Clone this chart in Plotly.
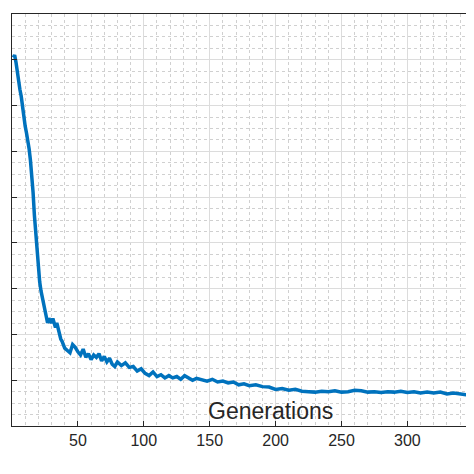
import plotly.graph_objects as go

# values (generation, best fitness)
generations = [1, 2, 3, 4, 5, 6, 7, 8, 9, 10, 11, 12, 13, 14, 15, 16, 17, 18, 19, 20,
               21, 22, 23, 24, 25, 26, 27, 28, 29, 30, 31, 32, 33, 34, 35, 36, 37, 38, 39, 40,
               42, 44, 46, 48, 50, 52, 54, 56, 58, 60, 62, 64, 66, 68, 70, 72, 74, 76, 78, 80,
               83, 86, 89, 92, 95, 98, 101, 104, 107, 110, 113, 116, 119, 122, 125, 128, 131, 134,
               137, 140, 144, 148, 152, 156, 160, 164, 168, 172, 176, 180, 185, 190, 195, 200,
               205, 210, 215, 220, 225, 230, 235, 240, 245, 250, 255, 260, 265, 270, 275, 280,
               285, 290, 295, 300, 305, 310, 315, 320, 325, 330, 335, 340, 345, 350, 356]
fitness = [8.05, 8.1, 7.95, 7.7, 7.6, 7.35, 7.2, 6.95, 6.85, 6.55, 6.4, 6.25, 6.05, 5.8, 5.5, 5.1,
           4.6, 4.2, 3.8, 3.45, 3.15, 2.95, 2.8, 2.65, 2.45, 2.3, 2.25, 2.35, 2.3, 2.25, 2.35, 2.2,
           2.15, 2.25, 2.1, 2.0, 1.9, 1.85, 1.75, 1.7, 1.65, 1.6, 1.78, 1.72, 1.62, 1.55, 1.68, 1.5,
           1.58, 1.45, 1.55, 1.5, 1.58, 1.42, 1.52, 1.4, 1.48, 1.35, 1.3, 1.4, 1.32, 1.38, 1.28, 1.3,
           1.2, 1.25, 1.15, 1.1, 1.18, 1.08, 1.12, 1.05, 1.1, 1.05, 1.08, 1.02, 1.1, 1.05, 1.0,
           1.04, 1.0, 0.98, 1.02, 0.96, 0.98, 0.94, 0.96, 0.9, 0.92, 0.88, 0.9, 0.86, 0.85, 0.8,
           0.82, 0.78, 0.8, 0.76, 0.75, 0.74, 0.76, 0.75, 0.77, 0.74, 0.75, 0.78, 0.77, 0.74, 0.75,
           0.73, 0.75, 0.74, 0.76, 0.73, 0.75, 0.72, 0.74, 0.72, 0.74, 0.7, 0.72, 0.7, 0.68, 0.68, 0.66]
x_ticks = [0, 50, 100, 150, 200, 250, 300, 350]

fig = go.Figure()
fig.add_trace(go.Scatter(x=generations, y=fitness, mode="lines",
                         line=dict(color="#0072BD", width=3.5), showlegend=False))

fig.update_layout(
    width=474, height=474,
    margin=dict(l=4, r=0, t=6, b=56, autoexpand=False),
    paper_bgcolor="white", plot_bgcolor="white",
    font=dict(family="Liberation Sans, Arial", size=16, color="#262626"),
)
fig.update_xaxes(
    range=[0, 356.6], tickvals=x_ticks, ticks="inside", ticklen=5, tickcolor="#262626",
    showline=True, linecolor="#262626", linewidth=1, mirror=True, automargin=False,
    showgrid=True, gridcolor="#dcdcdc", gridwidth=1, zeroline=False,
    minor=dict(dtick=10, showgrid=True, gridcolor="#d0d0d0", griddash="dot", gridwidth=1),
)
fig.update_yaxes(
    range=[0, 9], dtick=1, ticks="inside", ticklen=5, tickcolor="#262626", showticklabels=False,
    showline=True, linecolor="#262626", linewidth=1, mirror=True, automargin=False,
    showgrid=True, gridcolor="#dcdcdc", gridwidth=1, zeroline=False,
    minor=dict(dtick=0.25, showgrid=True, gridcolor="#d0d0d0", griddash="dot", gridwidth=1),
)
fig.add_annotation(text="Generations", xref="x domain", yref="paper", x=0.55, y=-0.0,
                   yanchor="bottom", showarrow=False, font=dict(size=23, color="#262626"))

fig.write_html("out.html")
